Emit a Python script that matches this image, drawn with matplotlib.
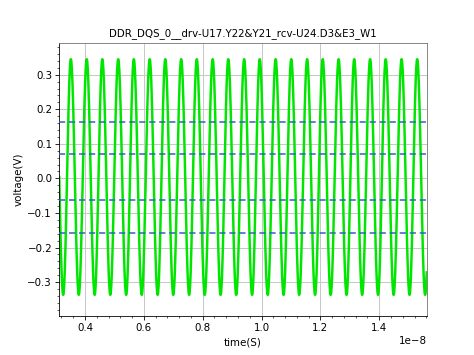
import numpy as np
import matplotlib
matplotlib.use('Agg')
import matplotlib.pyplot as plt
from matplotlib.ticker import AutoMinorLocator

# Waveform extremes (time in units of 1e-8 s)
peak_times = [0.299, 0.352, 0.406, 0.459, 0.513, 0.566, 0.620, 0.673, 0.727,
              0.780, 0.834, 0.887, 0.941, 0.994, 1.048, 1.101, 1.155, 1.208,
              1.262, 1.315, 1.369, 1.422, 1.476, 1.529, 1.583]
trough_times = [0.326, 0.379, 0.433, 0.486, 0.540, 0.593, 0.647, 0.700, 0.754,
                0.807, 0.861, 0.914, 0.968, 1.021, 1.075, 1.128, 1.182, 1.235,
                1.289, 1.342, 1.396, 1.449, 1.503, 1.556]
v_high = 0.345
v_low = -0.337

# eye mask levels (V)
mask_levels = [0.162, 0.07, -0.063, -0.158]

title = "DDR_DQS_0__drv-U17.Y22&Y21_rcv-U24.D3&E3_W1"

# build the curve by joining consecutive extremes with half-cosine segments
ext_t = sorted(peak_times + trough_times)
ext_v = [v_high if t in peak_times else v_low for t in ext_t]
t_all, v_all = [], []
for i in range(len(ext_t) - 1):
    s = np.linspace(0, 1, 30, endpoint=False)
    t_all.append(ext_t[i] + s * (ext_t[i + 1] - ext_t[i]))
    v_all.append(ext_v[i] + (ext_v[i + 1] - ext_v[i]) * (1 - np.cos(np.pi * s)) / 2)
t_all = np.concatenate(t_all) * 1e-8
v_all = np.concatenate(v_all)

fig = plt.figure(figsize=(474 / 74, 355 / 74), dpi=74)
ax = fig.add_subplot(111)
ax.plot(t_all, v_all, color="#00e600", lw=2.4, zorder=2)
for lv in mask_levels:
    ax.axhline(lv, color="#3462bd", lw=1.5, ls=(0, (4, 2.5)), zorder=3)

ax.set_xlim(0.3126e-8, 1.561e-8)
ax.set_ylim(-0.398, 0.393)
ax.xaxis.set_minor_locator(AutoMinorLocator(5))
ax.yaxis.set_minor_locator(AutoMinorLocator(5))
ax.grid(True, which="major", color="#c8c8c8", lw=1.0, zorder=0)
ax.set_axisbelow(True)
for sp in ["top", "right"]:
    ax.spines[sp].set_color("#707070")
ax.set_title(title, fontsize=10)
ax.set_xlabel("time(S)")
ax.set_ylabel("voltage(V)")

fig.savefig("out.png", dpi=74)
